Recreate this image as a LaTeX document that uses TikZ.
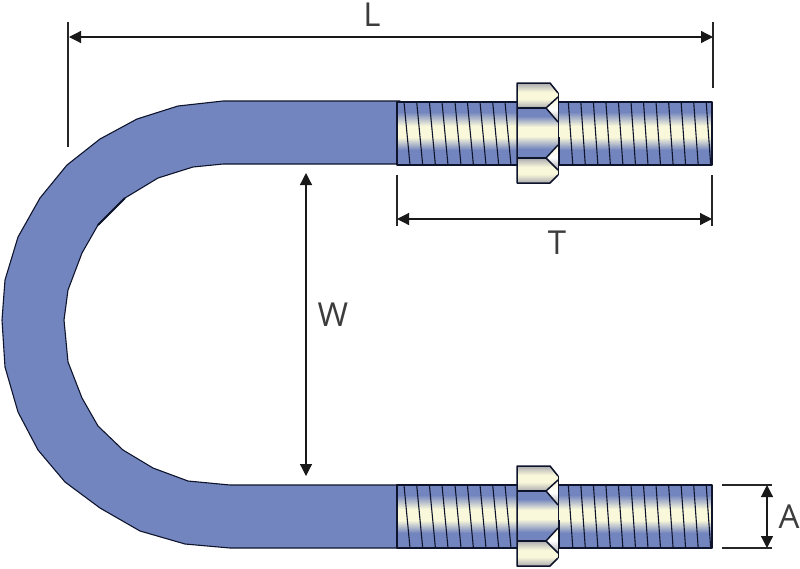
\documentclass[tikz,border=0pt]{standalone}
\usepackage{fontspec}
\setmainfont{Open Sans}
\usetikzlibrary{arrows.meta}
\definecolor{boltblue}{RGB}{115,133,190}
\definecolor{cream}{RGB}{250,248,218}
\definecolor{nutgrey}{RGB}{170,170,175}
\definecolor{inkline}{RGB}{14,20,44}
\definecolor{labelgrey}{RGB}{60,60,60}
\pgfdeclareverticalshading{threadshade}{100bp}{color(0bp)=(boltblue); color(37bp)=(boltblue); color(47bp)=(cream); color(56bp)=(cream); color(67bp)=(boltblue); color(100bp)=(boltblue)}
\pgfdeclareverticalshading{capshade}{100bp}{color(0bp)=(nutgrey); color(25bp)=(nutgrey); color(43bp)=(cream); color(57bp)=(cream); color(75bp)=(nutgrey); color(100bp)=(nutgrey)}
\pgfdeclareverticalshading{flatshade}{100bp}{color(0bp)=(boltblue); color(34bp)=(boltblue); color(47bp)=(cream); color(56bp)=(cream); color(67bp)=(boltblue); color(100bp)=(boltblue)}
\pgfdeclareverticalshading{tipshade}{100bp}{color(0bp)=(nutgrey); color(25bp)=(nutgrey); color(50bp)=(white); color(75bp)=(cream); color(100bp)=(cream)}
\tikzset{
  outline/.style={draw=inkline,line width=1.1pt,line join=round},
  nutline/.style={draw=inkline,line width=1.5pt,line join=round},
  threadline/.style={draw=inkline,line width=1.1pt},
  dimline/.style={draw=black!90,line width=1.2pt,{Triangle[length=12pt,width=12pt]}-{Triangle[length=12pt,width=12pt]}},
  extline/.style={draw=black!85,line width=1.2pt},
  dimlabel/.style={text=labelgrey,font=\fontsize{33}{33}\selectfont,inner sep=0pt}
}

\begin{document}
\begin{tikzpicture}[x=1pt,y=-1pt]
  \useasboundingbox (0,0) rectangle (800,568);

  % bent rod
  \draw[outline,fill=boltblue] (400,101) -- (223,101) -- (178,106) -- (137,119) -- (100,139) -- (67,165)
    -- (40,198) -- (18,237) -- (5,280) -- (2,320) -- (5,367) -- (18,412) -- (38,450) -- (65,482)
    -- (100,508) -- (140,531) -- (185,544) -- (230,548) -- (400,548) -- (400,485) -- (230,485)
    -- (188,481) -- (153,468) -- (123,450) -- (98,426) -- (82,398) -- (68,362) -- (64,320)
    -- (68,290) -- (82,253) -- (98,225) -- (125,198) -- (158,178) -- (193,167) -- (223,164)
    -- (400,164) -- cycle;
  \draw[draw=inkline,line width=1.8pt] (98,225) -- (125,198);

  % threaded ends and nuts
  \foreach \dy in {0,383} {
    \begin{scope}[shift={(0,\dy)}]
      \shade[shading=threadshade] (397,102) rectangle (712,165);
      \foreach \tx in {404,416.7,429.4,442,455,467.4,480,492.7,505}
        \draw[threadline] (\tx,102) -- (\tx+6,165);
      \foreach \tx in {568.3,580.8,593.4,605.9,618.4,631,643.5,656,668.6,681.1,693.7,706.2}
        \draw[threadline] (\tx,102) -- (\tx+4.5,165);
      \draw[outline] (397,102) rectangle (712,165);
      % nut
      \shade[shading=capshade] (517,83) -- (550,83) -- (558,93) -- (558,97) -- (546,108) -- (517,108) -- cycle;
      \shade[shading=flatshade] (517,108) -- (546,108) -- (558,122) -- (558,145) -- (546,158) -- (517,158) -- cycle;
      \shade[shading=capshade] (517,158) -- (546,158) -- (558,170) -- (558,175) -- (550,183) -- (517,183) -- cycle;
      \shade[shading=tipshade] (546,108) -- (558,97) -- (558,122) -- cycle;
      \shade[shading=tipshade] (546,158) -- (558,145) -- (558,170) -- cycle;
      \draw[nutline] (558,122) -- (546,108) -- (558,97);
      \draw[nutline] (558,170) -- (546,158) -- (558,145);
      \draw[nutline] (517,108) -- (546,108);
      \draw[nutline] (517,158) -- (546,158);
      \draw[nutline] (558,93) -- (550,83) -- (517,83) -- (517,183) -- (550,183) -- (558,175);
      \draw[draw=inkline,line width=0.7pt] (558,93) -- (558,175);
      \draw[draw=inkline,line width=1.8pt] (559,137) -- (559,165);
    \end{scope}
  }

  % dimension ends
  \coordinate (LA) at (69,37);
  \coordinate (LB) at (713,37);
  \coordinate (LAtop) at (68,22);
  \coordinate (LAend) at (68,147);
  \coordinate (LBtop) at (713,22);
  \coordinate (LBend) at (713,88);
  \coordinate (TA) at (397,219);
  \coordinate (TB) at (712,219);
  \coordinate (TAtop) at (397,175);
  \coordinate (TAend) at (397,226);
  \coordinate (TBtop) at (712,175);
  \coordinate (TBend) at (712,226);
  \coordinate (WA) at (306,173);
  \coordinate (WB) at (306,476);
  \coordinate (AA) at (767,485);
  \coordinate (AB) at (767,548);
  \coordinate (AAstart) at (722,485);
  \coordinate (AAend) at (772,485);
  \coordinate (ABstart) at (722,548);
  \coordinate (ABend) at (772,548);

  \draw[dimline] (LA) -- (LB);
  \draw[dimline] (TA) -- (TB);
  \draw[dimline] (WA) -- (WB);
  \draw[dimline] (AA) -- (AB);
  \draw[extline] (LAtop) -- (LAend);
  \draw[extline] (LBtop) -- (LBend);
  \draw[extline] (TAtop) -- (TAend);
  \draw[extline] (TBtop) -- (TBend);
  \draw[extline] (AAstart) -- (AAend);
  \draw[extline] (ABstart) -- (ABend);

  \node[dimlabel] (labL) at (372,15) {L};
  \node[dimlabel] (labT) at (557,243) {T};
  \node[dimlabel] (labW) at (333,315) {W};
  \node[dimlabel] (labA) at (789,517) {A};
\end{tikzpicture}
\end{document}
